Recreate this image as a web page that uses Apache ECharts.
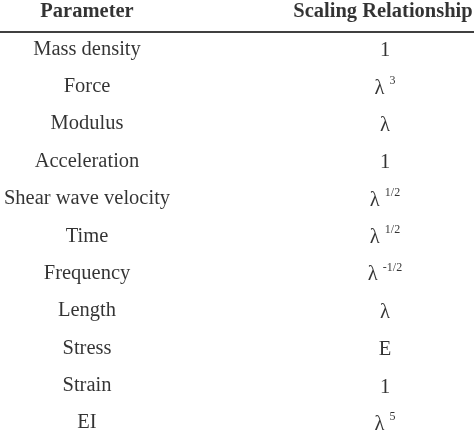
<!DOCTYPE html>
<html>
<head>
<meta charset="utf-8">
<script src="https://cdn.jsdelivr.net/npm/echarts@6/dist/echarts.min.js"></script>
<style>html,body{margin:0;background:#fff;}#main{width:474px;height:437px;}</style>
</head>
<body>
<div id="main"></div>
<script>
var headers = ['Parameter', 'Scaling Relationship'];
var parameters = ['Mass density', 'Force', 'Modulus', 'Acceleration', 'Shear wave velocity', 'Time', 'Frequency', 'Length', 'Stress', 'Strain', 'EI'];
var baseText = ['1', 'λ', 'λ', '1', 'λ', 'λ', 'λ', 'λ', 'E', '1', 'λ'];
var exponents = ['', '3', '', '', '1/2', '1/2', '-1/2', '', '', '', '5'];
var colX = [87, 385];

var myChart = echarts.init(document.getElementById('main'));
var font = '"Liberation Serif", "Times New Roman", serif';

function rel(i){
	if(!exponents[i]) return '{b|' + baseText[i] + '}';
	return '{b|' + baseText[i] + ' }{s|' + exponents[i] + '}';
}
var cells = [];
cells.push({value: [colX[0], 0], label: {formatter: headers[0], fontWeight: 'bold'}});
cells.push({value: [383, 0], label: {formatter: headers[1], fontWeight: 'bold'}});
parameters.forEach(function(p, i){
	cells.push({value: [colX[0], i + 1], label: {formatter: p}});
	cells.push({value: [colX[1], i + 1], label: {formatter: rel(i)}});
});

myChart.setOption({
	animation: false,
	grid: {left: 0, right: 0, top: 12, bottom: 14},
	xAxis: {type: 'value', min: 0, max: 474, show: false},
	yAxis: {type: 'value', min: 0, max: 11, inverse: true, show: false},
	series: [{
		type: 'scatter',
		symbolSize: 0,
		data: cells,
		label: {
			show: true, position: 'inside', color: '#000', fontSize: 20.5, fontFamily: font,
			textBorderWidth: 0,
			rich: {
				b: {fontSize: 20.5, fontFamily: font, color: '#000', lineHeight: 24, verticalAlign: 'bottom', textBorderWidth: 0},
				s: {fontSize: 12, fontFamily: font, color: '#000', lineHeight: 24, verticalAlign: 'top', padding: [0, 0, 12, 0], textBorderWidth: 0}
			}
		},
		markLine: {
			silent: true, symbol: 'none', label: {show: false},
			lineStyle: {color: '#000', width: 1.5, type: 'solid'},
			data: [{yAxis: 0.535}]
		}
	}]
});
</script>
</body>
</html>
